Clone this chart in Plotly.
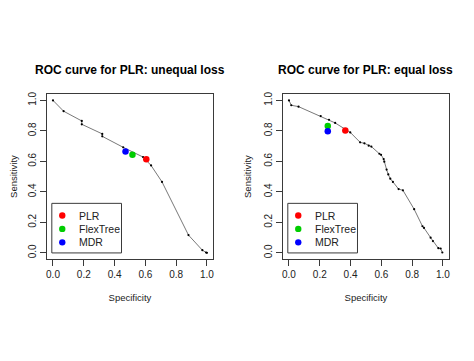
import plotly.graph_objects as go

# ---- data ----
spec_unequal = [0.0, 0.069, 0.187, 0.187, 0.32, 0.32, 0.456, 0.585, 0.637, 0.708, 0.88, 0.97, 0.994, 1.0]
sens_unequal = [1.0, 0.929, 0.865, 0.843, 0.78, 0.764, 0.692, 0.628, 0.573, 0.465, 0.116, 0.017, 0.002, 0.0]

spec_equal = [0.0, 0.015, 0.062, 0.206, 0.26, 0.30, 0.398, 0.462, 0.49, 0.518, 0.535, 0.587, 0.598,
              0.615, 0.619, 0.634, 0.645, 0.658, 0.675, 0.712, 0.74, 0.813, 0.867, 0.877, 0.92,
              0.935, 0.97, 0.985, 0.996]
sens_equal = [1.0, 0.968, 0.959, 0.897, 0.873, 0.852, 0.79, 0.725, 0.718, 0.703, 0.697, 0.65, 0.643,
              0.615, 0.598, 0.546, 0.514, 0.486, 0.465, 0.418, 0.41, 0.286, 0.174, 0.163, 0.099,
              0.077, 0.03, 0.028, 0.002]

methods = ["PLR", "FlexTree", "MDR"]
method_colors = ["#ff0000", "#00cd00", "#0000ff"]
methods_spec_unequal = [0.606, 0.516, 0.471]
methods_sens_unequal = [0.613, 0.643, 0.665]
methods_spec_equal = [0.366, 0.252, 0.252]
methods_sens_equal = [0.802, 0.832, 0.798]

titles = ["ROC curve for PLR: unequal loss", "ROC curve for PLR: equal loss"]
tick_vals = [0.0, 0.2, 0.4, 0.6, 0.8, 1.0]
tick_text = ["0.0", "0.2", "0.4", "0.6", "0.8", "1.0"]

# page body has an 8px margin; lay out in page pixels and shift
OFF = 8
W, H = 474 - OFF, 361 - OFF
FONT = "Liberation Sans, Arial, Helvetica, sans-serif"
AX = "#3a3a3a"
TXT = "#222222"

def px(x):
    return (x - OFF) / W

def py(y):
    return 1 - (y - OFF) / H

fig = go.Figure()

panels = [
    (spec_unequal, sens_unequal, methods_spec_unequal, methods_sens_unequal, "x", "y", 46, 213),
    (spec_equal, sens_equal, methods_spec_equal, methods_sens_equal, "x2", "y2", 283, 450),
]

for spec, sens, mspec, msens, xa, ya, _, _ in panels:
    fig.add_trace(go.Scatter(
        x=spec, y=sens, mode="lines+markers", xaxis=xa, yaxis=ya,
        line=dict(color="#555555", width=0.8),
        marker=dict(color="black", size=2.2),
        showlegend=False, hoverinfo="skip"))
    for name, col, sx, sy in zip(methods, method_colors, mspec, msens):
        fig.add_trace(go.Scatter(
            x=[sx], y=[sy], mode="markers", name=name, xaxis=xa, yaxis=ya,
            marker=dict(color=col, size=6.5), showlegend=False))

y_top, y_bot = 92, 258
ydom = [py(y_bot), py(y_top)]

def axis_common():
    return dict(range=[-0.04, 1.04], showgrid=False, zeroline=False,
                showline=True, linecolor=AX, linewidth=1, mirror=True,
                ticks="outside", ticklen=6, tickcolor=AX, tickwidth=1,
                tickvals=tick_vals, ticktext=tick_text,
                tickfont=dict(family=FONT, size=10, color=TXT))

layout = dict(
    width=W, height=H, margin=dict(l=0, r=0, t=0, b=0),
    plot_bgcolor="white", paper_bgcolor="white",
    font=dict(family=FONT, color=TXT),
    showlegend=False,
)

annotations = []
shapes = []
for i, (_, _, _, _, xa, ya, xl, xr) in enumerate(panels):
    sfx = "" if i == 0 else "2"
    xax = axis_common()
    xax.update(domain=[px(xl), px(xr)], anchor="y" + sfx,
               title=dict(text="Specificity", font=dict(family=FONT, size=9.5, color=TXT), standoff=15))
    yax = axis_common()
    yax.update(domain=ydom, anchor="x" + sfx, tickangle=-90,
               title=dict(text="Sensitivity", font=dict(family=FONT, size=9.5, color=TXT), standoff=9))
    layout["xaxis" + sfx] = xax
    layout["yaxis" + sfx] = yax
    annotations.append(dict(
        text="<b>" + titles[i] + "</b>", x=px((xl + xr) / 2), y=py(68),
        xref="paper", yref="paper", showarrow=False, xanchor="center", yanchor="middle",
        font=dict(family=FONT, size=12, color="black")))

    # legend box (drawn manually to match R's compact legend)
    lx0, lx1, ly0, ly1 = xl + 5, xl + 75, 202, 252
    shapes.append(dict(type="rect", xref="paper", yref="paper",
                       x0=px(lx0), x1=px(lx1), y0=py(ly1), y1=py(ly0),
                       line=dict(color=AX, width=1), fillcolor="white", layer="above"))
    for j, (name, col) in enumerate(zip(methods, method_colors)):
        cy = 214.3 + j * 13.5
        cx = lx0 + 10.5
        r = 3.2
        shapes.append(dict(type="circle", xref="paper", yref="paper",
                           x0=px(cx - r), x1=px(cx + r), y0=py(cy + r), y1=py(cy - r),
                           line=dict(color=col, width=0), fillcolor=col, layer="above"))
        annotations.append(dict(
            text=name, x=px(lx0 + 25), y=py(cy), xref="paper", yref="paper",
            showarrow=False, xanchor="left", yanchor="middle",
            font=dict(family=FONT, size=10.5, color=TXT)))

layout["annotations"] = annotations
layout["shapes"] = shapes
fig.update_layout(**layout)
fig.write_html("out.html")
